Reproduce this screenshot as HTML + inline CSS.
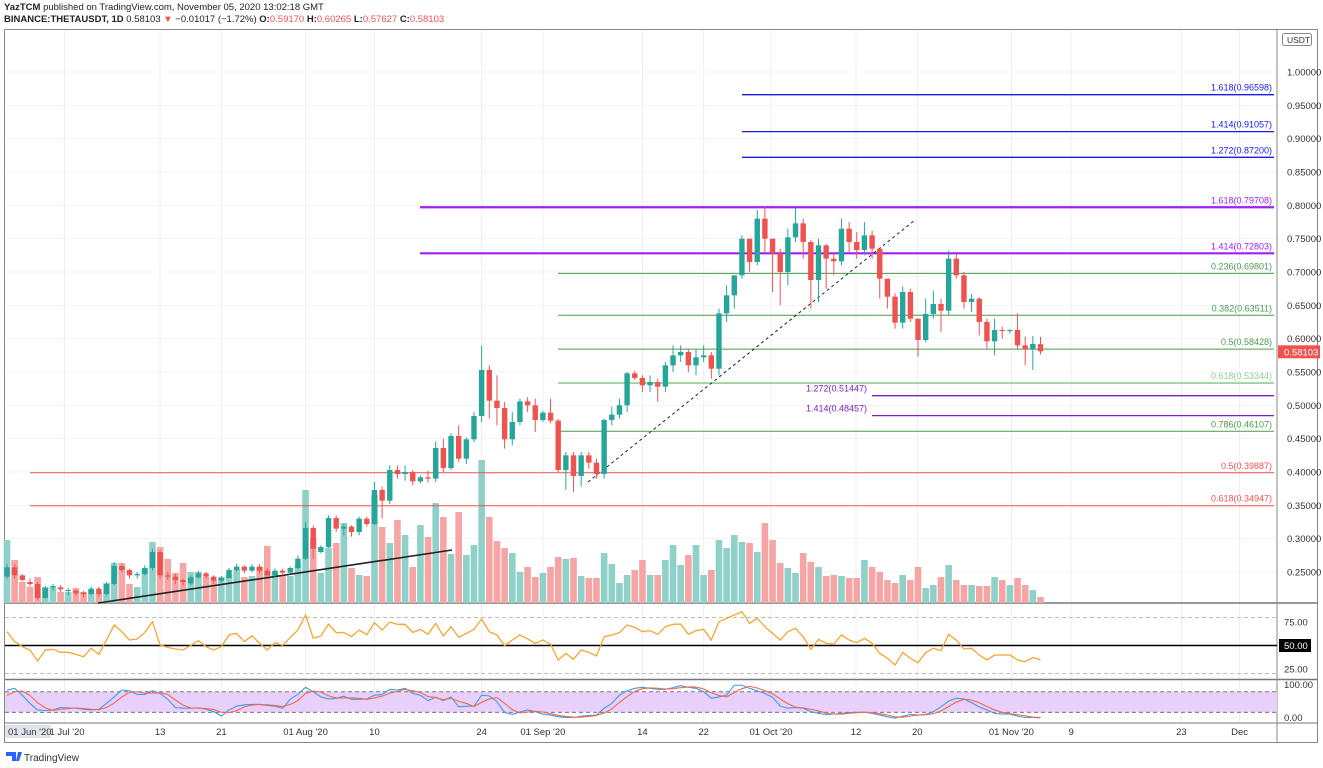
<!DOCTYPE html>
<html><head><meta charset="utf-8">
<style>
body{margin:0;background:#fff;width:1323px;height:768px;overflow:hidden;font-family:"Liberation Sans",sans-serif;}
#hdr1{position:absolute;left:4px;top:2px;font-size:9.5px;color:#222;}
#hdr2{position:absolute;left:4px;top:14px;font-size:9.5px;color:#222;}
.r{color:#ef5350}
svg{position:absolute;left:0;top:0}
</style></head><body>
<div id="hdr1"><b>YazTCM</b> published on TradingView.com, November 05, 2020 13:02:18 GMT</div>
<div id="hdr2"><b>BINANCE:THETAUSDT, 1D</b> 0.58103 <span class="r">▼</span> −0.01017 (−1.72%) <b>O:</b><span class="r">0.59170</span> <b>H:</b><span class="r">0.60265</span> <b>L:</b><span class="r">0.57627</span> <b>C:</b><span class="r">0.58103</span></div>
<svg id="chart" width="1323" height="768"></svg>
<script>
const opens=[.243,.257,.245,.235,.232,.211,.227,.227,.222,.222,.219,.217,.225,.217,.232,.259,.253,.245,.247,.256,.28,.245,.243,.238,.233,.242,.248,.243,.237,.241,.253,.258,.252,.258,.252,.245,.252,.249,.256,
.27,.316,.28,.2875,.331,.315,.318,.31,.33,.322,.373,.357,.403,.397,.40,.386,.392,.39,.436,.406,.454,.42,.449,.484,.553,.507,.496,.449,.475,.506,.50,.478,.489,.477,.403,.425,.394,.425,.414,.397,.478,.486,
.50,.548,.541,.53,.535,.528,.56,.575,.58,.56,.572,.575,.555,.638,.665,.695,.75,.715,.78,.75,.728,.70,.752,.773,.745,.688,.74,.72,.716,.765,.745,.733,.755,.735,.69,.663,
.624,.67,.63,.598,.637,.652,.642,.72,.695,.655,.66,.625,.596,.613,.612,.613,.59,.584,.5917];
const closes=[.257,.245,.238,.232,.211,.226,.229,.224,.223,.218,.217,.225,.217,.232,.259,.253,.245,.247,.256,.28,.245,.243,.238,.235,.242,.248,.243,.237,.241,.253,.258,.252,.258,.252,.245,.252,.249,.256,.27,
.316,.285,.2875,.331,.315,.318,.31,.33,.322,.373,.357,.403,.397,.40,.386,.392,.39,.436,.406,.454,.42,.449,.484,.553,.507,.496,.449,.475,.506,.50,.478,.489,.477,.403,.425,.394,.425,.414,.397,.478,.486,.50,
.548,.541,.53,.535,.528,.56,.575,.58,.56,.572,.575,.555,.638,.665,.695,.75,.715,.78,.75,.728,.70,.752,.773,.745,.688,.74,.72,.716,.765,.745,.733,.755,.735,.69,.663,.624,
.67,.63,.598,.637,.652,.642,.72,.695,.655,.66,.625,.596,.613,.612,.613,.59,.584,.592,.58103];
const highs=[.262,.262,.247,.24,.235,.229,.232,.23,.226,.224,.222,.228,.228,.235,.265,.262,.255,.25,.26,.285,.283,.25,.247,.24,.245,.252,.25,.245,.244,.256,.262,.26,.262,.262,.256,.255,.255,.258,.275,
.325,.32,.29,.335,.335,.322,.32,.333,.333,.385,.378,.41,.41,.41,.403,.395,.402,.446,.45,.458,.47,.452,.49,.59,.56,.545,.505,.49,.51,.512,.51,.492,.51,.48,.43,.43,.43,.43,.42,.48,.498,.51,
.55,.552,.545,.545,.54,.565,.59,.59,.585,.585,.59,.58,.645,.68,.695,.755,.745,.793,.798,.75,.735,.765,.796,.78,.748,.75,.742,.73,.78,.775,.76,.775,.762,.735,.68,.668,
.678,.675,.63,.66,.672,.66,.732,.728,.70,.667,.662,.63,.63,.618,.614,.638,.603,.604,.60265];
const lows=[.24,.24,.236,.228,.208,.21,.222,.22,.215,.214,.212,.215,.213,.215,.23,.25,.24,.24,.245,.252,.24,.238,.232,.23,.23,.24,.24,.232,.234,.24,.25,.248,.25,.248,.243,.243,.245,.248,.254,
.268,.27,.278,.286,.31,.305,.303,.305,.318,.32,.33,.352,.39,.387,.38,.383,.384,.385,.40,.403,.415,.412,.445,.475,.48,.47,.435,.44,.47,.49,.46,.475,.473,.40,.373,.37,.378,.405,.39,.39,.47,.48,
.49,.538,.52,.52,.505,.52,.55,.565,.55,.545,.565,.54,.545,.625,.645,.69,.70,.71,.73,.67,.65,.68,.745,.72,.645,.655,.675,.695,.71,.73,.72,.725,.72,.66,.645,.615,
.615,.625,.573,.595,.63,.61,.635,.69,.645,.64,.605,.585,.575,.60,.608,.585,.56,.553,.57627];
const volumes=[63,43,21,16,26,16,16,11,11,15,11,13,10,20,40,40,19,16,34,61,56,44,30,40,31,31,26,23,26,28,34,26,27,36,57,31,27,27,38,
113,65,30,55,60,80,35,28,27,108,76,60,83,68,36,78,66,100,86,49,91,48,58,143,86,62,55,50,31,36,26,30,36,46,44,45,27,25,25,50,39,20,
28,33,43,28,28,43,58,38,48,58,28,33,63,55,68,61,60,51,80,63,40,35,30,50,41,36,27,28,27,25,25,43,36,31,23,20,
28,23,36,15,18,26,38,23,18,18,17,17,26,23,18,25,18,13,6];
const rsi=[64.8,54.1,48.75,45.2,33.4,45.2,45.9,42.7,42.7,40.5,38,47,40.5,55.9,72,64.8,55.9,57,64,75.5,50.5,48,46.25,45.2,50,55.2,48.75,45.2,48.75,61.25,63,54.1,60.5,52.3,45.2,53,50.2,58.75,66.6,82.7,57.7,60.2,73,63.75,64,59.5,66.6,61.6,74.5,66.6,75.2,72.7,72.7,64,67.3,62,73.75,60.2,70.2,58.75,63,67.3,78.4,64.8,61.25,49.8,55.9,61.25,57,
52.3,55.9,51.25,34.5,41.6,35.2,45.2,42.7,38.75,59.5,61.25,63.75,72,69.5,64.8,65.9,62,70.2,72.7,73,62,65.9,67.3,55.9,75.5,79.1,82.7,86.25,73.75,79.1,70.2,63,55.9,64.8,68.4,59.5,45.9,56.6,52.3,51.6,61.25,55.9,53,57.7,52.3,41.6,36.25,29.1,42.7,36.25,31.6,42.3,47,44.5,62,55.9,46.25,47,39.8,34.5,39.8,39.8,39.8,34.5,32.7,37,34.75];
const stochK=[85,90,70,46,27,25,27,34,33,32,29,27,29,46,65,85,83,72,72,83,75,58,34,32,32,33,29,22,9,27,38,42,43,43,40,38,32,58,73,93,80,65,59,61,67,58,58,59,70,72,87,85,90,75,70,54,64,54,65,36,38,38,70,68,51,20,14,21,27,
22,15,12,7,5,5,9,11,12,32,46,70,83,90,93,90,87,87,92,98,93,90,80,61,65,70,99,99,90,83,75,64,38,32,34,32,22,17,14,15,17,19,20,20,17,12,7,3,9,14,12,14,22,36,53,61,59,48,36,27,17,15,15,9,5,5,4];
const stochD=[70,80,82,69,48,33,26,29,31,33,31,29,28,34,47,65,78,80,76,76,77,72,56,41,33,32,31,28,20,19,25,36,41,43,42,40,37,43,54,75,82,79,68,62,62,62,61,58,62,67,76,81,87,83,78,66,63,57,61,52,46,37,49,59,63,46,28,18,21,
23,21,16,11,8,6,6,8,11,18,30,49,66,81,89,91,90,88,89,92,94,94,88,77,69,65,78,89,96,91,83,74,59,45,35,33,29,24,18,15,15,17,19,20,19,16,12,7,6,9,12,13,16,24,37,50,58,56,48,37,27,20,16,13,10,6,5];
const priceTicks=["1.00000","0.95000","0.90000","0.85000","0.80000","0.75000","0.70000","0.65000","0.60000","0.55000","0.50000","0.45000","0.40000","0.35000","0.30000","0.25000"];
const timeLabels=["01 Jul '20","13","21","01 Aug '20","10","24","01 Sep '20","14","22","01 Oct '20","12","20","01 Nov '20","9","23","Dec"];
const timeIdx=[7.5,20,28,39,48,62,70,83,91,99.8,110.9,118.9,131.2,139,153.4,161];

const NS="http://www.w3.org/2000/svg";
const svg=document.getElementById('chart');
function mk(t,a,p){const e=document.createElementNS(NS,t);for(const k in a)e.setAttribute(k,a[k]);(p||svg).appendChild(e);return e;}
const X=i=>7+i*7.6556;
const Y=p=>72+(1-p)*666.67;
const YR=v=>645.5-(v-50)*0.933;
const YS=v=>719.2-v*0.343;
const YV=v=>603-v;
const R=1277;

let e;
e=mk('rect',{x:4.5,y:29.5,width:1313,height:713,fill:'none',stroke:'#888','stroke-width':1});

for(let k=0;k<priceTicks.length;k++){const y=Y(parseFloat(priceTicks[k]));
 e=mk('line',{x1:5,x2:R,y1:y,y2:y,stroke:'#f0f3f5'});}
for(let k=0;k<timeIdx.length;k++){const x=X(timeIdx[k]);
 e=mk('line',{x1:x,x2:x,y1:30,y2:723,stroke:'#eceff2'});}
[[603,1.5],[679.5,1.5],[723,1]].forEach(s=>{e=mk('line',{x1:5,x2:1318,y1:s[0],y2:s[0],stroke:'#777','stroke-width':s[1]});});
e=mk('line',{x1:R,x2:R,y1:30,y2:743,stroke:'#888'});

for(let i=0;i<volumes.length;i++){const up=closes[i]>=opens[i];
 e=mk('rect',{x:X(i)-3.3,y:YV(volumes[i]),width:6.6,height:volumes[i],fill:up?'#8fd0c8':'#f5a5a3'});
 }

const lv=[
 [742,0.96598,'#1a1aee',1.3,'1.618(0.96598)','r'],[742,0.91057,'#1a1aee',1.3,'1.414(0.91057)','r'],[742,0.872,'#1a1aee',1.3,'1.272(0.87200)','r'],
 [420,0.79708,'#a020f0',2.2,'1.618(0.79708)','r'],[420,0.72803,'#a020f0',2.2,'1.414(0.72803)','r'],
 [558,0.69801,'#4a9a4a',1,'0.236(0.69801)','r'],[558,0.63511,'#4a9a4a',1,'0.382(0.63511)','r'],[558,0.58428,'#4a9a4a',1,'0.5(0.58428)','r'],
 [558,0.53344,'#8fcf8f',1.6,'0.618(0.53344)','r'],[872,0.51447,'#7b1fc2',1.3,'1.272(0.51447)','l'],[872,0.48457,'#7b1fc2',1.3,'1.414(0.48457)','l'],
 [558,0.46107,'#4a9a4a',1,'0.786(0.46107)','r'],[30,0.39887,'#ef5350',1,'0.5(0.39887)','r'],[30,0.34947,'#ef5350',1,'0.618(0.34947)','r']];
lv.forEach(l=>{const y=Y(l[1]);
 e=mk('line',{x1:l[0],x2:1274,y1:y,y2:y,stroke:l[2],'stroke-width':l[3]});
 const t=l[5]==='r'?mk('text',{x:1272,y:y-4,'text-anchor':'end','font-size':9,fill:l[2]}):mk('text',{x:867,y:y-4,'text-anchor':'end','font-size':9,fill:l[2]});
 t.textContent=l[4];});

e=mk('line',{x1:98,y1:603,x2:452,y2:550,stroke:'#222','stroke-width':1.6});
e=mk('line',{x1:588,y1:482,x2:915,y2:220,stroke:'#222','stroke-width':1,'stroke-dasharray':'3 3'});

for(let i=0;i<closes.length;i++){const up=closes[i]>=opens[i],c=up?'#26a69a':'#ef5350',x=X(i);
 e=mk('line',{x1:x,x2:x,y1:Y(highs[i]),y2:Y(lows[i]),stroke:c,'stroke-width':1});
 const t=Y(Math.max(opens[i],closes[i])),b=Y(Math.min(opens[i],closes[i]));
 e=mk('rect',{x:x-2.7,y:t,width:5.4,height:Math.max(1,b-t),fill:c});}

for(let k=0;k<priceTicks.length;k++){e=mk('text',{x:1287,y:Y(parseFloat(priceTicks[k]))+3.5,'font-size':9.5,fill:'#333'});e.textContent=priceTicks[k];}
e=mk('rect',{x:1282.5,y:33.5,width:29,height:12,fill:'#fff',stroke:'#888',rx:2});
e=mk('text',{x:1287,y:43,'font-size':8.5,fill:'#333'});e.textContent='USDT';
e=mk('rect',{x:1278,y:Y(0.58103)-6,width:42,height:13,fill:'#ef5350'});
e=mk('text',{x:1284,y:Y(0.58103)+4,'font-size':9.5,fill:'#fff'});e.textContent='0.58103';

[80,20].forEach(v=>{e=mk('line',{x1:5,x2:R,y1:YR(v),y2:YR(v),stroke:'#bbb','stroke-dasharray':'4 3'});});
e=mk('line',{x1:5,x2:R,y1:YR(50),y2:YR(50),stroke:'#000','stroke-width':1.5});
e=mk('polyline',{points:rsi.map((v,i)=>X(i)+','+YR(v)).join(' '),fill:'none',stroke:'#f7a531','stroke-width':1.3});
[['75.00',75],['25.00',25]].forEach(a=>{e=mk('text',{x:1284,y:YR(a[1])+3.5,'font-size':9.5,fill:'#333'});e.textContent=a[0];});
e=mk('rect',{x:1279,y:YR(50)-6.5,width:32,height:13,fill:'#000'});
e=mk('text',{x:1284,y:YR(50)+3.5,'font-size':9.5,fill:'#fff'});e.textContent='50.00';

e=mk('rect',{x:5,y:YS(80),width:R-5,height:YS(20)-YS(80),fill:'#e8d0fb'});
[80,20].forEach(v=>{e=mk('line',{x1:5,x2:R,y1:YS(v),y2:YS(v),stroke:'#777','stroke-dasharray':'4 3'});});
e=mk('polyline',{points:stochK.map((v,i)=>X(i)+','+YS(v)).join(' '),fill:'none',stroke:'#3d9cf0','stroke-width':1.1});
e=mk('polyline',{points:stochD.map((v,i)=>X(i)+','+YS(v)).join(' '),fill:'none',stroke:'#ef6a4a','stroke-width':1.1});
[['100.00',100],['0.00',0]].forEach(a=>{e=mk('text',{x:1284,y:YS(a[1])+(a[1]?3:2),'font-size':9.5,fill:'#333'});e.textContent=a[0];});

for(let k=0;k<timeLabels.length;k++){const x=X(timeIdx[k]);
 e=mk('text',{x:x,y:735,'text-anchor':'middle','font-size':9.5,fill:'#333'});e.textContent=timeLabels[k];}
e=mk('rect',{x:5,y:725,width:46,height:13,fill:'#e0e3eb'});
e=mk('text',{x:8,y:735,'font-size':9.5,fill:'#333'});e.textContent="01 Jun '20";

e=mk('path',{d:'M6 752 h10 v9 h-4 v-5 h-6 z M18 752 l4 0 l-3 9 l-3 0 z',fill:'#2962ff'});
e=mk('text',{x:24,y:761,'font-size':10,fill:'#333'});e.textContent='TradingView';
</script>
</body></html>
